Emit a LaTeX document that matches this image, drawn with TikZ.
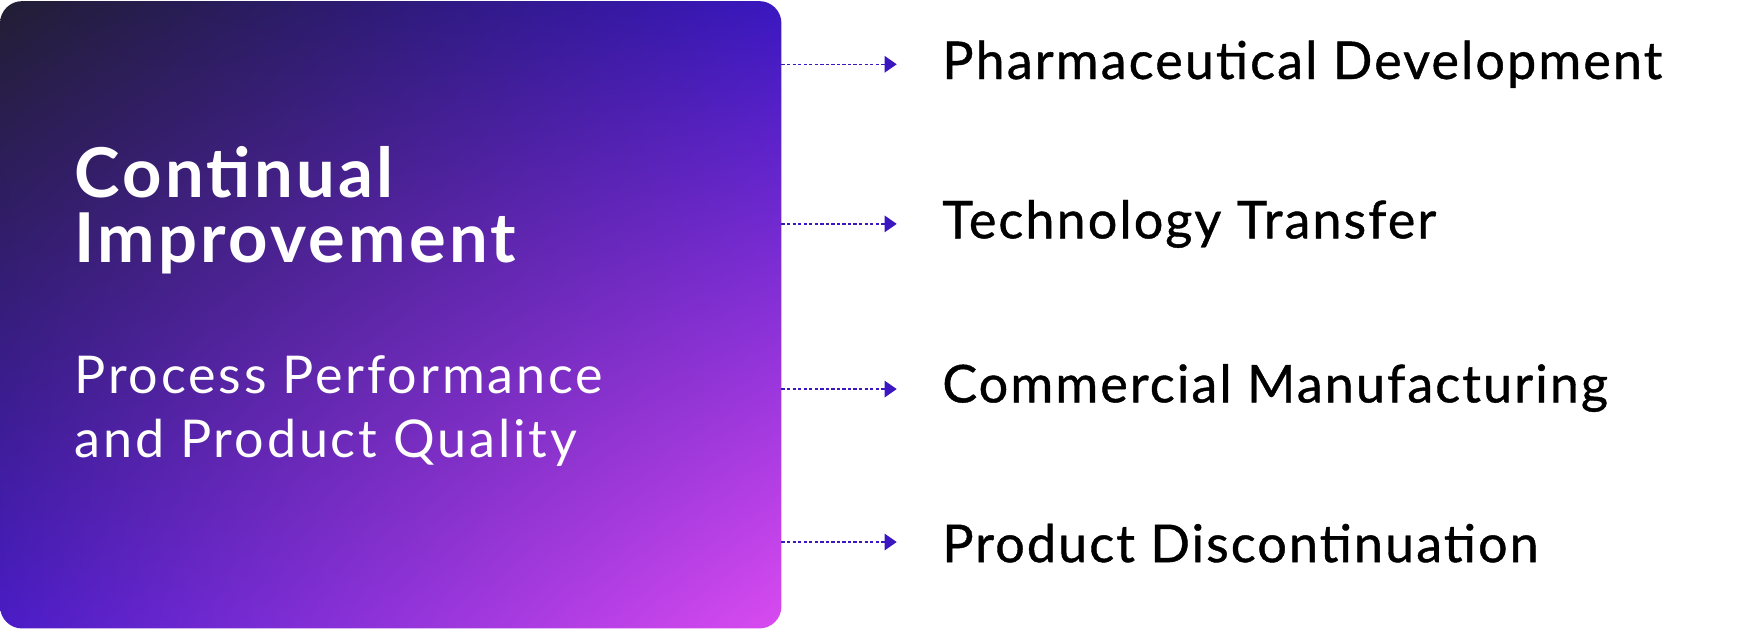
\documentclass[tikz,border=0pt]{standalone}
\usepackage{fontspec}
\setmainfont{Lato}
\newfontfamily\itemfont[LetterSpace=4,FakeBold=0.8]{Lato}
\newfontfamily\titlefont[LetterSpace=4.7]{Lato}
\newfontfamily\subfont[LetterSpace=5.4]{Lato}
\usetikzlibrary{arrows.meta,shadings}
\definecolor{cdark}{HTML}{221E33}
\definecolor{cmid}{HTML}{3A17C0}
\definecolor{clight}{HTML}{D94BF0}
\definecolor{cmid2}{HTML}{4A1CC6}
\tikzset{
  item/.style={anchor=west, font=\itemfont\fontsize{47}{50}\selectfont, text=black, inner sep=0pt},
  conn/.style={cmid, densely dashed, line width=1.2pt, -{Triangle[length=11pt,width=15pt]}},
  title/.style={anchor=base west, font=\titlefont\fontsize{62}{66}\selectfont\bfseries, text=white, inner sep=0pt},
  sub/.style={anchor=base west, font=\subfont\fontsize{47}{50}\selectfont, text=white, inner sep=0pt}
}
\begin{document}
\begin{tikzpicture}[x=1pt,y=-1pt]
\useasboundingbox (0,0) rectangle (1568,570);
\shade[rounded corners=20pt, upper left=cdark, upper right=cmid, lower left=cmid2, lower right=clight] (0,1) rectangle (705,567);
\node[title] (t1) at (67,178) {Continual};
\node[title] (t2) at (67,237) {Improvement};
\node[sub] (s1) at (67,355) {Process Performance};
\node[sub] (s2) at (67,413) {and Product Quality};
\node[item] (a) at (850,58) {Pharmaceutical Development};
\node[item] (b) at (850,202) {Technology Transfer};
\node[item] (c) at (850,350) {Commercial Manufacturing};
\node[item] (d) at (850,490) {Product Discontinuation};
\coordinate (ea) at (705,58);
\coordinate (eb) at (705,202);
\coordinate (ec) at (705,351);
\coordinate (ed) at (705,489);
\draw[conn] (ea) -- (809,58);
\draw[conn] (eb) -- (809,202);
\draw[conn] (ec) -- (809,351);
\draw[conn] (ed) -- (809,489);
\end{tikzpicture}
\end{document}
